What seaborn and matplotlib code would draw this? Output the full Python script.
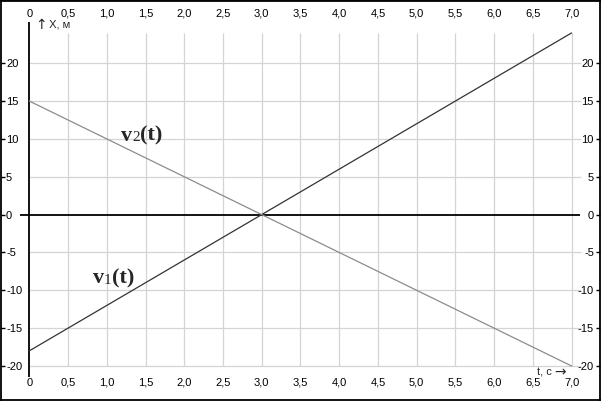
import matplotlib.pyplot as plt
import seaborn as sns

# data
t = [0, 7]
v1 = [-18, 24]
v2 = [15, -20]

x_ticks = [0, 0.5, 1.0, 1.5, 2.0, 2.5, 3.0, 3.5, 4.0, 4.5, 5.0, 5.5, 6.0, 6.5, 7.0]
x_labels = ['0', '0,5', '1,0', '1,5', '2,0', '2,5', '3,0', '3,5',
            '4,0', '4,5', '5,0', '5,5', '6,0', '6,5', '7,0']
y_ticks = [-20, -15, -10, -5, 0, 5, 10, 15, 20]
y_labels = ['-20', '-15', '-10', '-5', '0', '5', '10', '15', '20']

sns.set_style('white')
plt.rcParams['font.family'] = ['Liberation Sans', 'DejaVu Sans']
plt.rcParams['axes.unicode_minus'] = False

W, H = 609, 405
fig = plt.figure(figsize=(W / 100, H / 100), dpi=100)
ax = fig.add_axes([0.5 / W, (H - 399.5) / H, 599 / W, 399 / H])

# pixel calibration of the data area
x0_px, x_scale = 29.3, 77.47
y0_px, y_scale = 214.6, 7.57
ax.set_xlim((0.5 - x0_px) / x_scale, (599.5 - x0_px) / x_scale)
ax.set_ylim((y0_px - 399.5) / y_scale, (y0_px - 0.5) / y_scale)

# grid (only inside the plotting region)
ax.vlines(x_ticks[1:], -20, 24, color='#d4d4d4', lw=0.9, zorder=0)
ax.hlines([y for y in y_ticks if y != 0], 0, 7.12, color='#d4d4d4', lw=0.9, zorder=0)

# axes lines
ax.hlines(0, -0.12, 7.11, color='black', lw=1.3, zorder=2)
ax.vlines(0, -21.4, 25.5, color='black', lw=1.3, zorder=2)

# the two graphs
sns.lineplot(x=t, y=v1, color='#333333', lw=0.9, ax=ax, zorder=3)
sns.lineplot(x=t, y=v2, color='#8c8c8c', lw=0.9, ax=ax, zorder=3)

for s in ax.spines.values():
    s.set_color('black')
    s.set_linewidth(1.3)

ax.set_xticks(x_ticks, x_labels)
ax.set_yticks(y_ticks, y_labels)
ax.tick_params(axis='x', bottom=True, top=False, labelbottom=True, labeltop=False,
               length=0, labelsize=8, colors='black', pad=-15.5)
ax.tick_params(axis='y', left=True, right=True, labelleft=True, labelright=True,
               direction='in', length=3, width=1, labelsize=8, colors='black', pad=-4)
for tk in ax.yaxis.get_major_ticks():
    tk.label1.set_horizontalalignment('left')
    tk.label2.set_horizontalalignment('right')

top = ax.secondary_xaxis('top')
top.set_xticks(x_ticks, x_labels)
top.tick_params(length=0, labelsize=8, colors='black', pad=-13.2)
top.spines['top'].set_linewidth(1.3)

# axis captions
cap = ax.text(0.07, 25.0, '\u2191', fontsize=10, ha='left', va='center',
              family='DejaVu Sans')
ax.annotate(' X, м', xy=(1, 0.5), xycoords=cap, fontsize=8, ha='left', va='center',
            xytext=(0, 0.5), textcoords='offset points')
cap2 = ax.text(6.55, -20.9, 't, с ', fontsize=8, ha='left', va='center')
ax.annotate('\u2192', xy=(1, 0.5), xycoords=cap2, fontsize=10, ha='left', va='center',
            family='DejaVu Sans')


def curve_label(x, y, digit):
    serif = ['Liberation Serif', 'DejaVu Serif']
    a = ax.text(x, y, 'v', fontsize=16, fontweight='bold', family=serif,
                ha='left', va='bottom')
    b = ax.annotate(digit, xy=(1, 0), xycoords=a, fontsize=11, family=serif,
                    ha='left', va='bottom', xytext=(0, 1.0), textcoords='offset points')
    ax.annotate('(t)', xy=(1, 0), xycoords=b, fontsize=16, fontweight='bold',
                family=serif, ha='left', va='bottom',
                xytext=(0, -1.0), textcoords='offset points')


curve_label(1.19, 9.1, '2')
curve_label(0.82, -9.7, '1')

fig.savefig('out.png', dpi=100)
